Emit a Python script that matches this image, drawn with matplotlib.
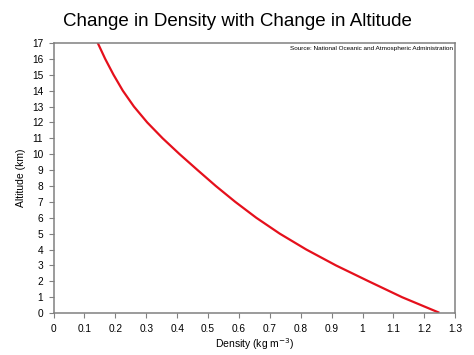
import matplotlib
matplotlib.use("Agg")
import matplotlib.pyplot as plt

altitude = [0.05, 1, 2, 3, 4, 5, 6, 7, 8, 9, 10, 11, 12, 13, 14, 15, 16, 17]
density = [1.245, 1.128, 1.020, 0.914, 0.818, 0.732, 0.656, 0.588, 0.525, 0.466, 0.408, 0.353, 0.303, 0.260, 0.224, 0.194, 0.167, 0.143]
xticks = [0, 0.1, 0.2, 0.3, 0.4, 0.5, 0.6, 0.7, 0.8, 0.9, 1, 1.1, 1.2, 1.3]
xticklabels = ["0", "0.1", "0.2", "0.3", "0.4", "0.5", "0.6", "0.7", "0.8", "0.9", "1", "1.1", "1.2", "1.3"]
yticks = list(range(0, 18))

plt.rcParams['font.family'] = ['Liberation Sans', 'DejaVu Sans']

fig = plt.figure(figsize=(4.74, 3.55), dpi=100)
ax = fig.add_axes([0.113, 0.118, 0.8475, 0.761])
ax.plot(density, altitude, color='#e5101c', lw=1.6)
ax.set_xlim(0, 1.3)
ax.set_ylim(0, 17)
ax.set_xticks(xticks)
ax.set_xticklabels(xticklabels)
ax.set_yticks(yticks)
for s in ax.spines.values():
    s.set_color('#808080')
    s.set_linewidth(1.1)
ax.tick_params(direction='out', length=3.5, width=0.8, color='#808080', labelsize=7.3, pad=4)
ax.set_xlabel('Density (kg m$^{-3}$)', fontsize=7.5, labelpad=2)
ax.set_ylabel('Altitude (km)', fontsize=7.5, labelpad=4)
fig.text(0.5, 0.94, 'Change in Density with Change in Altitude', ha='center', va='center', fontsize=13.5)
ax.text(0.995, 0.99, 'Source: National Oceanic and Atmospheric Administration', transform=ax.transAxes,
        ha='right', va='top', fontsize=4.6)
fig.savefig('out.png', dpi=100)
